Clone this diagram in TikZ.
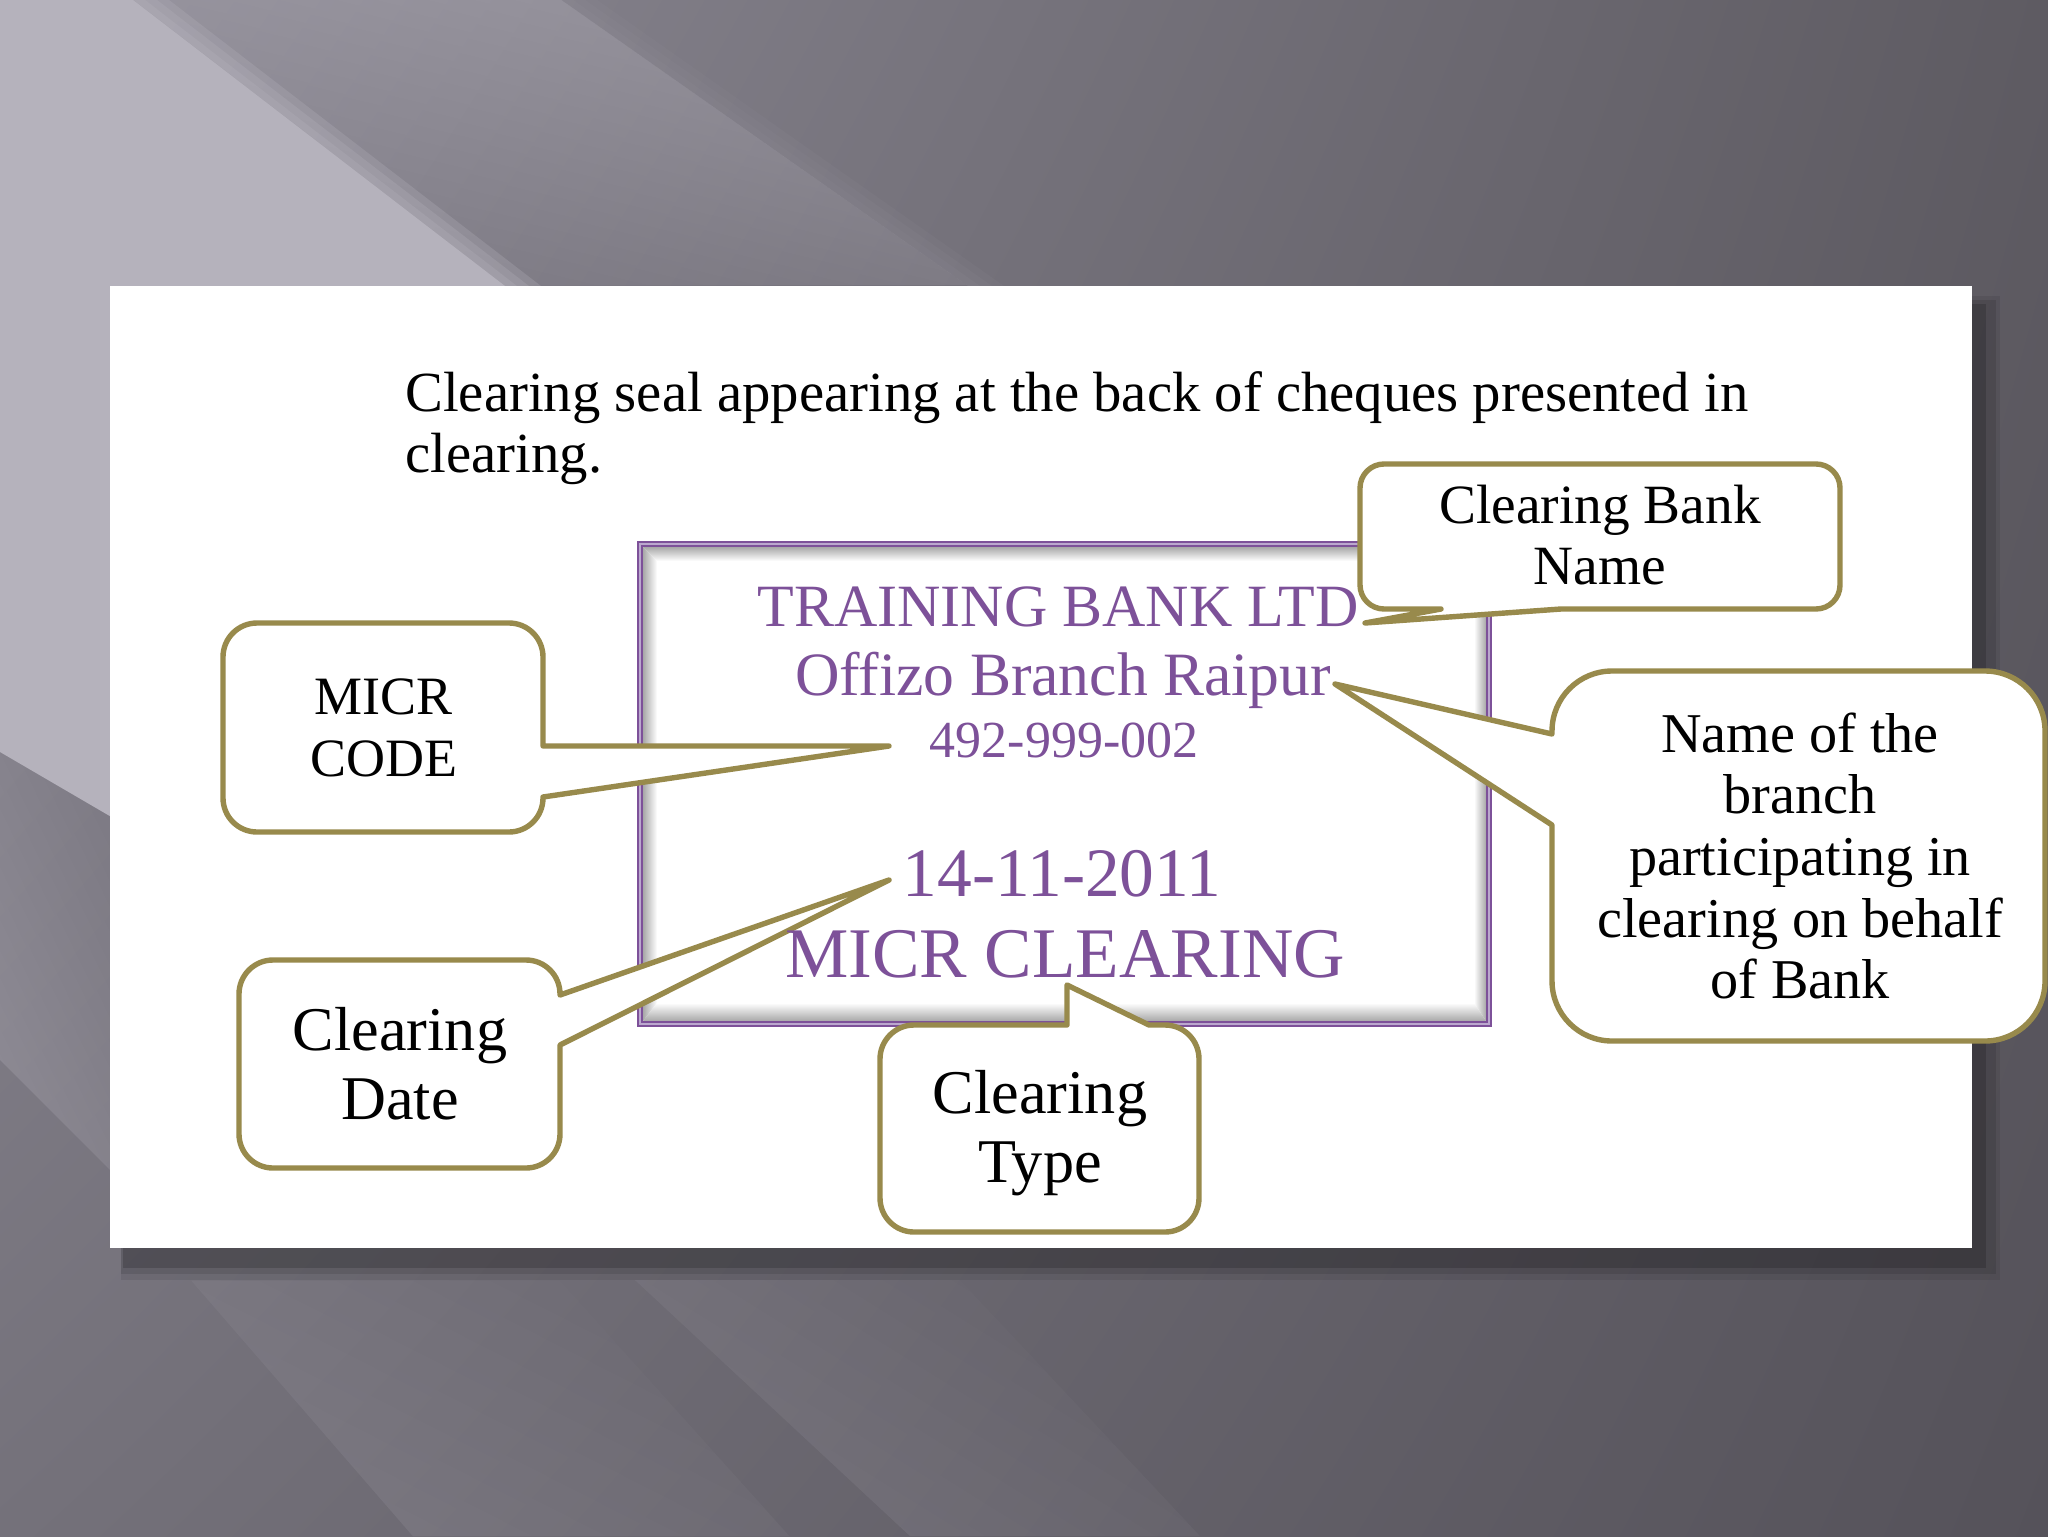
\documentclass[tikz,border=0pt]{standalone}
\usepackage{fontspec}
\setmainfont{Liberation Serif}
\usepackage[usenames,dvipsnames]{xcolor}
\usetikzlibrary{fadings,shadings}
\definecolor{balloonline}{HTML}{988A4C}
\definecolor{sealpurple}{HTML}{7D5199}
\definecolor{sealpale}{HTML}{BBA8CE}
\definecolor{sealshade}{HTML}{A8A8A8}
\definecolor{slatelight}{HTML}{B5B2BC}
\definecolor{slatetop}{HTML}{8E8B96}
\definecolor{slateright}{HTML}{5E5B62}
\definecolor{slatelow}{HTML}{74717A}
\definecolor{slatedark}{HTML}{55525A}
\tikzset{
    balloon/.style={draw=balloonline,fill=white,line width=2.7pt,line join=round},
    streak/.style={fill=slatelight,path fading=east}
}

\begin{document}
\begin{tikzpicture}[x=0.5pt,y=-0.5pt]
            \useasboundingbox (0,0) rectangle (2048,1536);
            % backdrop
            \shade [upper left=slatetop,upper right=slateright,lower left=slatelow,lower right=slatedark]
                (0,0) rectangle (2048,1536);
            \fill [streak,fill opacity=.42,fading angle=235] (133,0) -- (561,0) -- (968,286) -- (505,286) -- cycle;
            \foreach \d in {12,24,36}
                \fill [slatelight,fill opacity=.05] (561+\d,0) -- (968+\d,286) -- (968,286) -- (561,0) -- cycle;
            \fill [streak,fill opacity=.30,fading angle=60] (0,1060) -- (120,1180) -- (120,822) -- (0,752) -- cycle;
            \fill [streak,fill opacity=.16,fading angle=40] (191,1280) -- (560,1280) -- (790,1536) -- (413,1536) -- cycle;
            \fill [streak,fill opacity=.16,fading angle=36] (635,1280) -- (960,1280) -- (1200,1536) -- (910,1536) -- cycle;
            \foreach \d in {12,24,36}
                \fill [slatelight,fill opacity=.28] (133+\d,0) -- (505+\d,286) -- (0,286) -- (0,0) -- cycle;
            \fill [slatelight] (0,0) -- (133,0) -- (505,286) -- (120,300) -- (120,822) -- (0,752) -- cycle;

            % panel and its shadow
            \fill [black,opacity=.08] (121,296) rectangle (2000,1280);
            \fill [black,opacity=.10] (121,300) rectangle (1996,1274);
            \fill [black,opacity=.16] (123,304) rectangle (1986,1268);
            \fill [white] (110,286) rectangle (1972,1248);

            % seal frame
            \shade [left color=sealshade,right color=white] (643,547) -- (657,561) -- (657,1003) -- (643,1021) -- cycle;
            \shade [left color=white,right color=sealshade] (1486,547) -- (1474,561) -- (1474,1003) -- (1486,1021) -- cycle;
            \shade [top color=sealshade,bottom color=white] (643,547) -- (1486,547) -- (1474,561) -- (657,561) -- cycle;
            \shade [top color=white,bottom color=sealshade] (657,1003) -- (1474,1003) -- (1486,1021) -- (643,1021) -- cycle;
            \draw [draw=sealpurple,double=sealpale,double distance=1pt,line width=1pt] (640,544) rectangle (1489,1024);

            \draw [balloon,rounded corners=12pt] (1441,609) -- (1360,609) -- (1360,464) -- (1840,464) -- (1840,609) [sharp corners] -- (1561,609) -- (1365,623) -- cycle;
            \draw [balloon,rounded corners=30pt] (1552,825) -- (1552,1041) -- (2045,1041) -- (2045,671) -- (1552,671) [sharp corners] -- (1552,734) -- (1335,684) -- cycle;
            \draw [balloon,rounded corners=17pt] (543,746) -- (543,623) -- (223,623) -- (223,832) -- (543,832) [sharp corners] -- (543,797) -- (889,746) -- cycle;
            \draw [balloon,rounded corners=17pt] (560,995) -- (560,960) -- (239,960) -- (239,1168) -- (560,1168) [sharp corners] -- (560,1045) -- (889,880) -- cycle;
            \draw [balloon,rounded corners=17pt] (1149,1025) -- (1199,1025) -- (1199,1232) -- (880,1232) -- (880,1025) [sharp corners] -- (1067,1025) -- (1067,985) -- cycle;

            \begin{scope}[every node/.style={inner sep=0pt,align=center,text=black}]
                \node [align=left,anchor=west,font=\fontsize{28.35}{30.8}\selectfont] (title) at (405,428)
                    {Clearing seal appearing at the back of cheques presented in\\clearing.};
                \node [font=\fontsize{27}{30.8}\selectfont] (micrcode) at (384,728) {MICR\\CODE};
                \node [font=\fontsize{31.1}{34.5}\selectfont] (cleardate) at (400,1064) {Clearing\\Date};
                \node [font=\fontsize{31.1}{34.3}\selectfont] (cleartype) at (1040,1133) {Clearing\\Type};
                \node [font=\fontsize{27.7}{30.8}\selectfont] (bankname) at (1600,535) {Clearing Bank\\Name};
                \node [font=\fontsize{28.1}{30.8}\selectfont] (branchname) at (1800,856)
                    {Name of the\\branch\\participating in\\clearing on behalf\\of Bank};
            \end{scope}

            \begin{scope}[every node/.style={inner sep=0pt,anchor=base,text=sealpurple}]
                \node [font=\fontsize{30}{34}\selectfont] (sealbank) at (1058,626) {TRAINING BANK LTD};
                \node [font=\fontsize{30.8}{34}\selectfont] (sealbranch) at (1063,695) {Offizo Branch Raipur};
                \node [font=\fontsize{26}{30}\selectfont] (sealcode) at (1064,757) {492-999-002};
                \node [font=\fontsize{34.7}{40}\selectfont] (sealdate) at (1062,896) {14-11-2011};
                \node [font=\fontsize{35.6}{40}\selectfont] (sealtype) at (1065,977) {MICR CLEARING};
            \end{scope}
\end{tikzpicture}
\end{document}
